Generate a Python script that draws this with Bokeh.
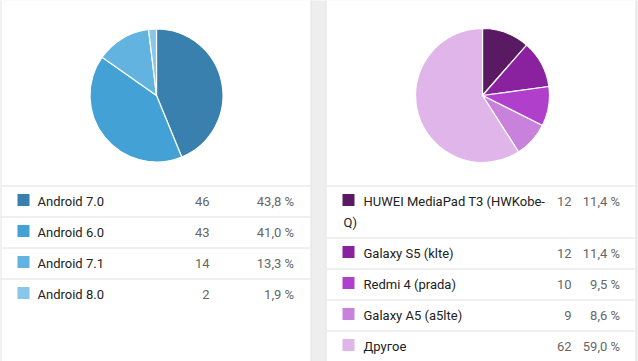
import math
from bokeh.plotting import figure
from bokeh.models import Range1d, ColumnDataSource
from bokeh.core.properties import value
from bokeh.embed import file_html
from bokeh.resources import INLINE

# ---- data ----
os_labels = ["Android 7.0", "Android 6.0", "Android 7.1", "Android 8.0"]
os_counts = [46, 43, 14, 2]
os_pcts = ["43,8 %", "41,0 %", "13,3 %", "1,9 %"]
os_colors = ["#3A80AE", "#43A1D6", "#62B3DF", "#88C7E9"]

dev_labels = ["HUWEI MediaPad T3 (HWKobe-Q)", "Galaxy S5 (klte)", "Redmi 4 (prada)",
              "Galaxy A5 (a5lte)", "Другое"]
dev_counts = [12, 12, 10, 9, 62]
dev_pcts = ["11,4 %", "11,4 %", "9,5 %", "8,6 %", "59,0 %"]
dev_colors = ["#5A1A63", "#8A22A0", "#B040CB", "#C882DB", "#E0B6EA"]

W, H = 638, 361
FONT = value("Roboto")

p = figure(width=W, height=H, output_backend="svg", toolbar_location=None,
           x_range=Range1d(0, W), y_range=Range1d(0, H), min_border=0)
p.axis.visible = False
p.grid.visible = False
p.outline_line_color = None
p.background_fill_color = "#eeeeee"
p.border_fill_color = "#eeeeee"


def Y(ypx):
    return H - ypx


def card(x0, x1):
    p.quad(left=[x0], right=[x1], top=[Y(-5)], bottom=[Y(H + 5)],
           fill_color="white", line_color="#e2e2e2", line_width=1)


def pie(cx, cy, r, counts, colors):
    total = sum(counts)
    starts, ends = [], []
    acc = 0
    for c in counts:
        starts.append(math.pi / 2 - 2 * math.pi * acc / total)
        acc += c
        ends.append(math.pi / 2 - 2 * math.pi * acc / total)
    src = ColumnDataSource(dict(x=[cx] * len(counts), y=[Y(cy)] * len(counts),
                                s=starts, e=ends, c=colors))
    p.wedge(x="x", y="y", radius=r, start_angle="s", end_angle="e", direction="clock",
            fill_color="c", line_color="white", line_width=1.2, source=src)


def table(x0, x1, sw_x, lab_x, cnt_x, pct_x, top, labels, counts, pcts, colors, wrap_at=None):
    y = top
    p.segment(x0=[x0], x1=[x1], y0=[Y(y)], y1=[Y(y)], line_color="#e0e0e0", line_width=1)
    for i, lab in enumerate(labels):
        lines = [lab]
        if wrap_at and len(lab) > wrap_at and "-" in lab:
            k = lab.index("-") + 1
            lines = [lab[:k], lab[k:]]
        h = 31 + 21 * (len(lines) - 1)
        yc = y + 15.5
        p.rect(x=[sw_x + 6], y=[Y(yc - 1.5)], width=12, height=12,
               fill_color=colors[i], line_color=None)
        p.text(x=[lab_x], y=[Y(yc)], text=[lines[0]], text_font=FONT, text_font_size="13px",
               text_color="#222222", text_baseline="middle", text_align="left")
        if len(lines) > 1:
            p.text(x=[sw_x + 1], y=[Y(yc + 21)], text=[lines[1]], text_font=FONT,
                   text_font_size="13px", text_color="#222222", text_baseline="middle",
                   text_align="left")
        p.text(x=[cnt_x], y=[Y(yc)], text=[str(counts[i])], text_font=FONT,
               text_font_size="13px", text_color="#666666", text_baseline="middle",
               text_align="right")
        p.text(x=[pct_x], y=[Y(yc)], text=[pcts[i]], text_font=FONT,
               text_font_size="13px", text_color="#666666", text_baseline="middle",
               text_align="right")
        y += h
        if i < len(labels) - 1 or wrap_at:
            p.segment(x0=[x0], x1=[x1], y0=[Y(y)], y1=[Y(y)], line_color="#e0e0e0", line_width=1)


card(0.5, 310.5)
card(325.5, 635.5)

pie(156, 95, 66.5, os_counts, os_colors)
pie(482, 95, 67, dev_counts, dev_colors)

table(1, 310, 17, 37, 209, 293.5, 185.5, os_labels, os_counts, os_pcts, os_colors)
table(326, 635, 342, 363, 571, 619.5, 185.5, dev_labels, dev_counts, dev_pcts, dev_colors,
      wrap_at=22)

open("out.html", "w").write(file_html(p, INLINE))
